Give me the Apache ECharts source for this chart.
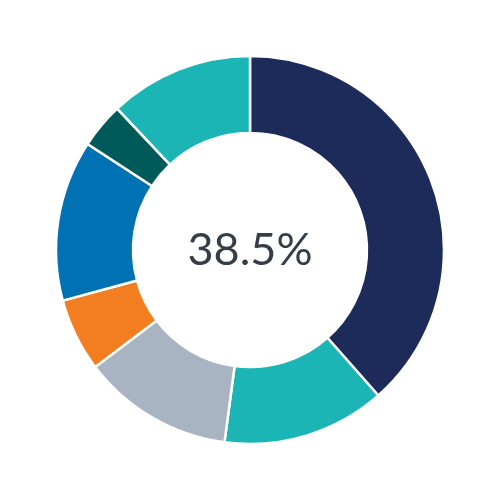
<!DOCTYPE html>
<html><head><meta charset="utf-8">
<script src="https://cdn.jsdelivr.net/npm/echarts@6/dist/echarts.min.js"></script>
<style>html,body{margin:0;padding:0;background:#fff}#c{width:500px;height:500px}</style>
</head><body><div id="c"></div>
<script>
const categories = ['A','B','C','D','E','F','G'];
const values = [38.5, 13.6, 12.6, 6.1, 13.4, 3.8, 12.0];
const colors = ['#1c2b5a','#1bb5b6','#a9b4c3','#f37e21','#0072b4','#005a5a','#1bb5b6'];
const centerLabel = '38.5%';
const chart = echarts.init(document.getElementById('c'));
chart.setOption({
  animation: false,
  graphic: [{type:'text', left:'center', top:'middle', style:{text:centerLabel, fontFamily:'Lato', fontSize:45, fill:'#343e48'}}],
  series: [{
    type: 'pie', center: ['50%','50%'], radius: [117, 194], startAngle: 90, clockwise: true,
    label: {show:false}, labelLine:{show:false}, silent:true,
    itemStyle: {borderColor:'#fff', borderWidth:2.5},
    data: categories.map((c,i)=>({name:c, value:values[i], itemStyle:{color:colors[i]}}))
  }]
});
</script></body></html>
